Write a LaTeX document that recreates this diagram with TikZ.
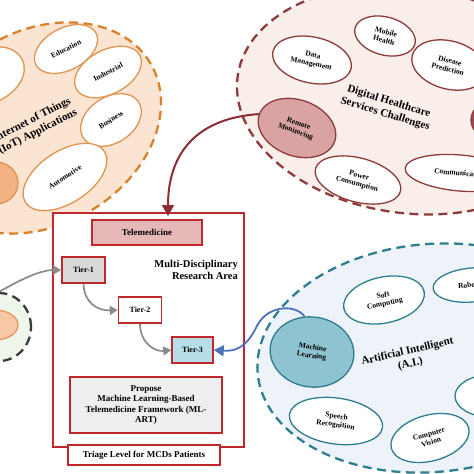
\documentclass[tikz,border=0pt]{standalone}
\usepackage{fontspec}
\setmainfont{Liberation Serif}
\usetikzlibrary{shapes.geometric,arrows.meta}
\definecolor{iotfill}{HTML}{FCE4D2}
\definecolor{iotdash}{HTML}{D9822B}
\definecolor{iotline}{HTML}{E0944F}
\definecolor{iotorange}{HTML}{F4B183}
\definecolor{dhfill}{HTML}{FAEEEA}
\definecolor{dhdash}{HTML}{8E3B3B}
\definecolor{dhline}{HTML}{8E3B3B}
\definecolor{rmfill}{HTML}{D9A3A3}
\definecolor{dhblob}{HTML}{9E4A4A}
\definecolor{aifill}{HTML}{EEF3F9}
\definecolor{aidash}{HTML}{2E7F8F}
\definecolor{ailine}{HTML}{2E7D8F}
\definecolor{mlfill}{HTML}{8EC3D1}
\definecolor{boxred}{HTML}{C0282D}
\definecolor{telefill}{HTML}{E6B9B8}
\definecolor{tonefill}{HTML}{D9D9D9}
\definecolor{tthreefill}{HTML}{B7DDE8}
\definecolor{propfill}{HTML}{EEEEEE}
\definecolor{grayarrow}{HTML}{8A8A8A}
\definecolor{redarrow}{HTML}{8B2D35}
\definecolor{bluearrow}{HTML}{4A73BE}
\definecolor{greenfill}{HTML}{EEF5EA}
\definecolor{greendash}{HTML}{3A3A3A}
\begin{document}
\begin{tikzpicture}[x=1pt,y=-1pt,
  bigell/.style={ellipse, inner sep=0pt, line width=2.3pt, dash pattern=on 9pt off 5.5pt},
  iotell/.style={ellipse, inner sep=0pt, draw=iotline, fill=white, line width=1.3pt,
    font=\fontsize{7.5}{8.5}\selectfont\bfseries, align=center},
  dhell/.style={iotell, draw=dhline},
  aiell/.style={iotell, draw=ailine},
  titletext/.style={font=\fontsize{11}{13}\selectfont\bfseries, align=center},
  rbox/.style={rectangle, draw=boxred, line width=1.6pt, inner sep=0pt,
    font=\fontsize{9}{10.5}\selectfont\bfseries, align=center},
  tierbox/.style={rbox, minimum width=43pt, minimum height=26pt, font=\fontsize{8}{9}\selectfont\bfseries},
  grayarr/.style={draw=grayarrow, line width=1.7pt, -{Triangle[length=8pt,width=9pt]}},
  redarr/.style={draw=redarrow, line width=2pt, -{Triangle[length=11pt,width=12pt]}},
  bluearr/.style={draw=bluearrow, line width=1.8pt, -{Triangle[length=10pt,width=11pt]}}
]
\useasboundingbox (0,0) rectangle (474,474);
\clip (0,0) rectangle (474,474);
\fill[white] (0,0) rectangle (474,474);

% big groups
\node[bigell, draw=iotdash, fill=iotfill, minimum width=256pt, minimum height=194pt, rotate=30] (iot) at (40,128) {};
\node[bigell, draw=dhdash, fill=dhfill, minimum width=344pt, minimum height=226pt, rotate=-8] (dh) at (408,100) {};
\node[bigell, draw=aidash, fill=aifill, minimum width=350pt, minimum height=228pt, rotate=5] (ai) at (432,358) {};
\node[bigell, draw=greendash, fill=greenfill, minimum width=64pt, minimum height=68pt] (grn) at (-1,327) {};
\node[ellipse, draw=iotline, fill=iotorange!70, line width=1.2pt, minimum width=46pt, minimum height=30pt] (grno) at (-5,325) {};

% IoT
\node[iotell, minimum width=76pt, minimum height=54pt, rotate=25] (smart) at (-12,76) {Smart\\Cities};
\node[iotell, minimum width=68pt, minimum height=42pt, rotate=28] (edu) at (66,49) {Education};
\node[iotell, minimum width=72pt, minimum height=44pt, rotate=28] (ind) at (108,72) {Industrial};
\node[iotell, minimum width=66pt, minimum height=46pt, rotate=33] (bus) at (111,120) {Business};
\node[iotell, minimum width=94pt, minimum height=52pt, rotate=33] (auto) at (65,177) {Automotive};
\node[ellipse, draw=iotline, fill=iotorange, line width=1.3pt, minimum width=44pt, minimum height=42pt] (iotp) at (-4,183) {};
\node[titletext, rotate=27] (iott) at (35,126) {Internet of Things\\(IoT) Applications};

% Digital healthcare
\node[dhell, minimum width=80pt, minimum height=46pt, rotate=-12] (dm) at (312,60) {Data\\Management};
\node[dhell, minimum width=62pt, minimum height=38pt, rotate=-15] (mh) at (385,36) {Mobile\\Health};
\node[dhell, minimum width=76pt, minimum height=48pt, rotate=-15] (dp) at (449,65) {Disease\\Prediction};
\node[dhell, fill=rmfill, minimum width=80pt, minimum height=56pt, rotate=-20] (rm) at (297,128) {Remote\\Monitoring};
\node[dhell, minimum width=88pt, minimum height=44pt, rotate=-15] (pc) at (358,180) {Power\\Consumption};
\node[dhell, minimum width=110pt, minimum height=36pt, rotate=-5] (com) at (460,173) {Communication};
\node[ellipse, fill=dhblob, draw=dhline, line width=1.3pt, minimum width=30pt, minimum height=32pt] (dhp) at (486,120) {};
\node[titletext, rotate=-17] (dht) at (387,108) {Digital Healthcare\\Services Challenges};

% AI
\node[aiell, fill=mlfill, minimum width=84pt, minimum height=70pt, rotate=-8] (ml) at (312,352) {Machine\\Learning};
\node[aiell, minimum width=82pt, minimum height=46pt, rotate=12] (sc) at (384,300) {Soft\\Computing};
\node[aiell, minimum width=78pt, minimum height=34pt, rotate=5] (rob) at (472,285) {Robotics};
\node[aiell, minimum width=70pt, minimum height=42pt] (aip) at (490,396) {};
\node[aiell, minimum width=94pt, minimum height=46pt, rotate=-8] (sr) at (336,421) {Speech\\Recognition};
\node[aiell, minimum width=80pt, minimum height=46pt, rotate=15] (cv) at (430,438) {Computer\\Vision};
\node[titletext, rotate=13] (ait) at (409,358) {Artificial Intelligent\\(A.I.)};

% main box
\node[rbox, fill=white, minimum width=191pt, minimum height=234pt] (main) at (148.5,330) {};
\node[rbox, fill=telefill, minimum width=110pt, minimum height=25pt] (tele) at (147,232.5) {Telemedicine};
\node[font=\fontsize{10.5}{12.5}\selectfont\bfseries, align=right, anchor=east, inner sep=0pt] (mdra) at (238,270) {Multi-Disciplinary\\Research Area};
\node[tierbox, fill=tonefill] (t1) at (83.5,270) {Tier-1};
\node[tierbox, fill=white] (t2) at (140,310) {Tier-2};
\node[tierbox, fill=tthreefill, minimum width=41pt] (t3) at (192.5,350) {Tier-3};
\node[rbox, fill=propfill, minimum width=152pt, minimum height=56pt] (prop) at (146,405) {Propose\\Machine Learning-Based\\Telemedicine Framework (ML-\\ART)};
\node[rbox, fill=white, minimum width=152pt, minimum height=20pt] (tri) at (144,455) {Triage Level for MCDs Patients};

% connectors
\coordinate (teleIn) at (168,216);
\draw[redarr] (rm.west) .. controls (200,118) and (168,150) .. (teleIn);
\draw[grayarr] (t1.south) .. controls (84,303) and (98,311) .. (t2.west);
\draw[grayarr] (t2.south) .. controls (140,343) and (155,352) .. (t3.west);
\draw[grayarr] (grn.north) .. controls (20,280) and (40,270) .. (t1.west);
\coordinate (blueMid) at (258,324);
\draw[bluearr] (ml.110) .. controls (297,305) and (270,304) .. (blueMid) .. controls (250,340) and (242,352) .. (t3.east);
\end{tikzpicture}
\end{document}
